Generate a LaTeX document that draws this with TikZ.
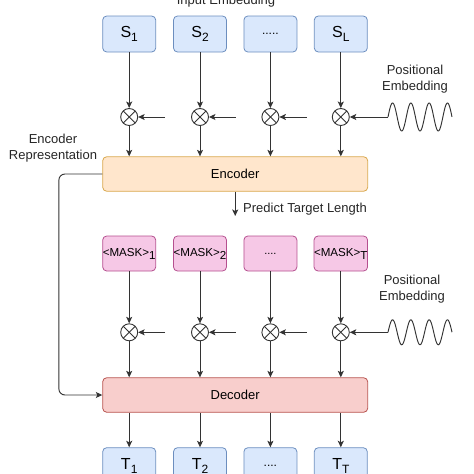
\documentclass[tikz,border=0pt]{standalone}
\usepackage{fontspec}
\setmainfont{Liberation Sans}
\usetikzlibrary{arrows.meta}
\definecolor{bluefill}{HTML}{DAE8FC}
\definecolor{blueline}{HTML}{6C8EBF}
\definecolor{encfill}{HTML}{FFE6CC}
\definecolor{encline}{HTML}{D9A84E}
\definecolor{decfill}{HTML}{F8CECC}
\definecolor{decline}{HTML}{B85450}
\definecolor{maskfill}{HTML}{F6C8E6}
\definecolor{maskline}{HTML}{B5508F}
\definecolor{linec}{HTML}{333333}
\newcommand{\lbl}{\fontsize{13}{15.5}\selectfont}
\newcommand{\tok}[2]{\fontsize{16}{16}\selectfont #1\raisebox{-0.45ex}{\fontsize{12}{12}\selectfont #2}}
\newcommand{\msk}[1]{\fontsize{11.6}{11.6}\selectfont <MASK>\raisebox{-0.5ex}{\fontsize{11.6}{11.6}\selectfont #1}}
\tikzset{
  tokbox/.style={draw=blueline, fill=bluefill, rounded corners=4pt, minimum width=53pt, minimum height=36pt, inner sep=0pt, line width=0.8pt},
  maskbox/.style={draw=maskline, fill=maskfill, rounded corners=4pt, minimum width=53pt, minimum height=35pt, inner sep=0pt, line width=0.8pt},
  bigbox/.style={rounded corners=4pt, minimum width=265pt, minimum height=34.5pt, inner sep=0pt, line width=0.8pt},
  mult/.style={circle, draw=linec, fill=white, minimum size=17pt, inner sep=0pt, line width=0.9pt,
    path picture={
      \draw[linec, line width=0.9pt] ([shift={(45:8.5pt)}]path picture bounding box.center) -- ([shift={(225:8.5pt)}]path picture bounding box.center);
      \draw[linec, line width=0.9pt] ([shift={(135:8.5pt)}]path picture bounding box.center) -- ([shift={(315:8.5pt)}]path picture bounding box.center);
    }},
  arr/.style={-{Stealth[length=6.5pt,width=6pt,inset=1.5pt]}, line width=0.95pt, draw=linec},
  wave/.style={linec, line width=0.95pt},
  txt/.style={inner sep=0pt, align=center, font=\lbl, text=black!85},
}
\begin{document}
\begin{tikzpicture}[x=1pt,y=-1pt]
\useasboundingbox (0,0) rectangle (474,474);
\clip (0,0) rectangle (474,474);

% top tokens
\node[tokbox] (s1) at (129.2,34) {\tok{S}{1}};
\node[tokbox] (s2) at (200,34) {\tok{S}{2}};
\node[tokbox] (s3) at (270.4,34) {\fontsize{12}{12}\selectfont .....};
\node[tokbox] (s4) at (340.8,34) {\tok{S}{L}};
\node[txt, anchor=base] (inemb) at (226,4) {Input Embedding};

% multipliers row 1
\node[mult] (m11) at (129.2,117) {};
\node[mult] (m12) at (200,117) {};
\node[mult] (m13) at (270.4,117) {};
\node[mult] (m14) at (340.8,117) {};

\coordinate (h11) at (165,117);
\coordinate (h12) at (235.5,117);
\coordinate (h13) at (306.5,117);
\coordinate (w1) at (388,117);
\draw[wave] plot[domain=0:64, samples=140, smooth] ({388+\x},{117-14*sin(\x/18.29*360)});
\node[txt] (pe1) at (415,79) {Positional\\Embedding};

% encoder
\node[bigbox, draw=encline, fill=encfill] (enc) at (235.2,174) {\lbl Encoder};
\node[txt] (encrep) at (53,148) {Encoder\\Representation};
\coordinate (ptl) at (235.2,216);
\draw[arr] (enc.south) -- (ptl);
\node[txt, anchor=west] (ptxt) at (243,209) {Predict Target Length};

\foreach \i in {1,2,3,4} {
  \draw[arr] (s\i.south) -- (m1\i.north);
  \draw[arr] (m1\i.south) -- (m1\i.south |- enc.north);
}
\draw[arr] (h11) -- (m11.east);
\draw[arr] (h12) -- (m12.east);
\draw[arr] (h13) -- (m13.east);
\draw[arr] (w1) -- (m14.east);

% mask tokens
\node[maskbox] (k1) at (129.2,253.5) {\msk{1}};
\node[maskbox] (k2) at (200,253.5) {\msk{2}};
\node[maskbox] (k3) at (270.4,253.5) {\fontsize{11}{11}\selectfont ....};
\node[maskbox] (k4) at (340.8,253.5) {\msk{T}};

% multipliers row 2
\node[mult] (m21) at (129.2,332.3) {};
\node[mult] (m22) at (200,332.3) {};
\node[mult] (m23) at (270.4,332.3) {};
\node[mult] (m24) at (340.8,332.3) {};

\coordinate (h21) at (165,332.3);
\coordinate (h22) at (235.5,332.3);
\coordinate (h23) at (306.5,332.3);
\coordinate (w2) at (388,332.3);
\draw[wave] plot[domain=0:64, samples=140, smooth] ({388+\x},{332.3-12.5*sin(\x/18.29*360)});
\node[txt] (pe2) at (412,289) {Positional\\Embedding};

% decoder
\node[bigbox, draw=decline, fill=decfill] (dec) at (235.2,395) {\lbl Decoder};

\foreach \i in {1,2,3,4} {
  \draw[arr] (k\i.south) -- (m2\i.north);
  \draw[arr] (m2\i.south) -- (m2\i.south |- dec.north);
}
\draw[arr] (h21) -- (m21.east);
\draw[arr] (h22) -- (m22.east);
\draw[arr] (h23) -- (m23.east);
\draw[arr] (w2) -- (m24.east);

\draw[arr, rounded corners=6pt] (enc.west) -- ++(-43.4,0) |- (dec.west);

% output tokens
\node[tokbox] (t1) at (129.2,465.7) {\tok{T}{1}};
\node[tokbox] (t2) at (200,465.7) {\tok{T}{2}};
\node[tokbox] (t3) at (270.4,465.7) {\fontsize{12}{12}\selectfont ....};
\node[tokbox] (t4) at (340.8,465.7) {\tok{T}{T}};
\foreach \i in {1,2,3,4} {
  \draw[arr] (dec.south -| t\i.north) -- (t\i.north);
}
\end{tikzpicture}
\end{document}
